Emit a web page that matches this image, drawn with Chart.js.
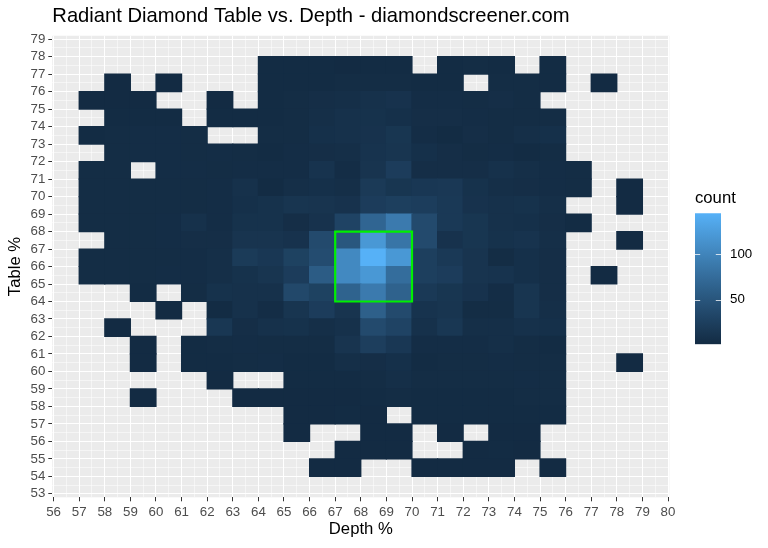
<!DOCTYPE html>
<html>
<head>
    <title>Radiant Diamond Table vs. Depth</title>
    <script src="https://cdn.jsdelivr.net/npm/chart.js"></script>
    <style>
        body { margin: 0; background: #fff; }
        #heatmap { position: absolute; left: 0; top: 0; }
        #colorbar { position: absolute; left: 695px; top: 180px; }
    </style>
</head>
<body>
    <canvas id="heatmap" width="768" height="548"></canvas>
    <canvas id="colorbar" width="73" height="180"></canvas>

    <script>
        const _ = null;
        const depthTicks = [56,57,58,59,60,61,62,63,64,65,66,67,68,69,70,71,72,73,74,75,76,77,78,79,80];
        const tableTicks = [53,54,55,56,57,58,59,60,61,62,63,64,65,66,67,68,69,70,71,72,73,74,75,76,77,78,79];
        const depthBins = [57,58,59,60,61,62,63,64,65,66,67,68,69,70,71,72,73,74,75,76,77,78];
        const tableBins = [77,76,75,74,73,72,71,70,69,68,67,66,65,64,63,62,61,60,59,58,57,56,55,54];
        // one row per entry of tableBins, one column per entry of depthBins
        const counts = [
            [_,_,_,_,_,_,_,2,2,2,1,2,2,_,2,3,2,_,2,_,_,_],
            [_,1,_,1,_,_,_,2,2,2,3,3,3,2,2,_,3,3,2,_,1,_],
            [1,1,1,_,_,1,_,2,3,5,6,8,10,4,4,3,5,3,_,_,_,_],
            [_,2,2,2,_,2,2,2,3,6,8,9,7,5,5,4,3,3,3,_,_,_],
            [2,3,4,4,3,_,_,3,3,7,8,10,14,4,2,5,3,6,7,_,_,_],
            [_,3,4,4,3,4,3,2,4,5,6,11,13,7,5,3,4,2,3,_,_,_],
            [3,3,_,4,4,3,4,4,4,11,4,12,22,5,5,5,8,6,4,3,_,_],
            [3,3,3,3,3,4,8,2,6,7,6,19,14,16,17,9,6,5,4,3,_,1],
            [3,3,3,3,3,4,7,9,13,12,10,22,25,23,18,10,8,9,6,_,_,1],
            [3,3,3,4,8,4,9,9,5,10,30,68,90,38,18,14,8,7,5,2,_,_],
            [_,3,3,4,5,5,12,12,10,38,52,120,85,38,10,14,9,11,6,_,_,1],
            [3,3,3,3,4,6,20,16,28,40,105,145,120,25,18,12,3,7,5,_,_,_],
            [3,3,3,4,4,6,9,13,22,58,105,120,76,25,22,12,11,7,5,_,1,_],
            [_,_,2,_,3,9,8,8,35,28,65,90,64,18,14,10,4,13,5,_,_,_],
            [_,_,_,1,_,2,8,4,13,22,12,62,38,11,13,3,3,13,6,_,_,_],
            [_,1,_,_,_,15,5,8,9,6,8,38,30,8,15,6,6,8,7,_,_,_],
            [_,_,1,_,2,3,4,3,3,3,12,24,16,4,4,4,6,3,2,_,_,_],
            [_,_,1,_,2,2,3,4,2,2,6,5,7,2,3,3,4,3,3,_,_,1],
            [_,_,_,_,_,1,_,_,2,2,2,3,6,3,3,3,3,4,3,_,_,_],
            [_,_,1,_,_,_,1,1,1,1,1,2,3,2,2,2,2,3,3,_,_,_],
            [_,_,_,_,_,_,_,_,1,1,2,1,_,2,2,2,2,2,2,_,_,_],
            [_,_,_,_,_,_,_,_,1,_,_,1,1,_,1,_,1,1,_,_,_,_],
            [_,_,_,_,_,_,_,_,_,_,1,1,1,_,_,1,2,1,_,_,_,_],
            [_,_,_,_,_,_,_,_,_,1,1,_,_,1,1,1,1,_,1,_,_,_]
        ];
        const boxDepth = [67, 70, 70, 67, 67];
        const boxTable = [64, 64, 68, 68, 64];
        const legendTicks = [50, 100];
        const countMin = 1;
        const countMax = 145;

        // ggplot's default gradient runs through Lab space
        const lowColor = [0x13, 0x2B, 0x43];
        const highColor = [0x56, 0xB1, 0xF7];

        function rgbToLab(rgb) {
            const lin = rgb.map(v => { v /= 255; return v > 0.04045 ? Math.pow((v + 0.055) / 1.055, 2.4) : v / 12.92; });
            const xyz = [
                (0.4124 * lin[0] + 0.3576 * lin[1] + 0.1805 * lin[2]) / 0.95047,
                0.2126 * lin[0] + 0.7152 * lin[1] + 0.0722 * lin[2],
                (0.0193 * lin[0] + 0.1192 * lin[1] + 0.9505 * lin[2]) / 1.08883
            ].map(v => v > 0.008856 ? Math.cbrt(v) : 7.787 * v + 16 / 116);
            return [116 * xyz[1] - 16, 500 * (xyz[0] - xyz[1]), 200 * (xyz[1] - xyz[2])];
        }

        function labToCss(lab) {
            const fy = (lab[0] + 16) / 116;
            const xyz = [lab[1] / 500 + fy, fy, fy - lab[2] / 200]
                .map(v => v * v * v > 0.008856 ? v * v * v : (v - 16 / 116) / 7.787);
            const x = xyz[0] * 0.95047, y = xyz[1], z = xyz[2] * 1.08883;
            const rgb = [
                3.2406 * x - 1.5372 * y - 0.4986 * z,
                -0.9689 * x + 1.8758 * y + 0.0415 * z,
                0.0557 * x - 0.2040 * y + 1.0570 * z
            ].map(v => {
                v = v > 0.0031308 ? 1.055 * Math.pow(v, 1 / 2.4) - 0.055 : 12.92 * v;
                return Math.round(Math.min(1, Math.max(0, v)) * 255);
            });
            return `rgb(${rgb[0]},${rgb[1]},${rgb[2]})`;
        }

        const lowLab = rgbToLab(lowColor);
        const highLab = rgbToLab(highColor);
        function countColor(n) {
            const t = (n - countMin) / (countMax - countMin);
            return labToCss(lowLab.map((v, i) => v + (highLab[i] - v) * t));
        }

        // tile for each non empty bin, floating bar from table to table + 1
        const cells = [];
        tableBins.forEach((table, r) => {
            depthBins.forEach((depth, c) => {
                if (counts[r][c] !== null) {
                    cells.push({ x: depth + 0.5, y: [table, table + 1], count: counts[r][c] });
                }
            });
        });

        // ticks every half unit, the half ones only give the thin grid lines
        function withHalves(ticks) {
            const out = [];
            ticks.forEach((v, i) => {
                out.push({ value: v });
                if (i < ticks.length - 1) out.push({ value: v + 0.5 });
            });
            return out;
        }

        // the scale also asks for these without a tick in its context
        const isMajor = c => !c.tick || Number.isInteger(c.tick.value);

        function axisOptions(ticks, min, max) {
            return {
                type: 'linear',
                min: min,
                max: max,
                offset: false,
                afterBuildTicks: scale => { scale.ticks = withHalves(ticks); },
                border: { display: false },
                grid: {
                    offset: false,
                    color: '#ffffff',
                    lineWidth: c => isMajor(c) ? 1 : 0.5,
                    tickColor: c => isMajor(c) ? '#333333' : 'rgba(0,0,0,0)',
                    tickWidth: 1,
                    tickLength: 4
                },
                ticks: {
                    autoSkip: false,
                    maxRotation: 0,
                    minRotation: 0,
                    padding: 3,
                    color: '#4d4d4d',
                    font: { family: '"Liberation Sans"', size: 13.3 },
                    callback: v => Number.isInteger(v) ? String(v) : ''
                }
            };
        }

        const panelBackground = {
            id: 'panelBackground',
            beforeDraw(chart) {
                const a = chart.chartArea;
                chart.ctx.fillStyle = '#ebebeb';
                chart.ctx.fillRect(a.left, a.top, a.right - a.left, a.bottom - a.top);
            }
        };

        const xAxis = axisOptions(depthTicks, 55.95, 80.05);
        xAxis.afterFit = scale => { scale.height = 50.7; };
        xAxis.title = { display: true, text: 'Depth %', color: '#000', font: { family: '"Liberation Sans"', size: 16.7 }, padding: { top: 0, bottom: 9 } };

        const yAxis = axisOptions(tableTicks, 52.8, 79.2);
        yAxis.afterFit = scale => { scale.width = 52.3; };
        yAxis.title = { display: true, text: 'Table %', color: '#000', font: { family: '"Liberation Sans"', size: 16.7 }, padding: { top: 5, bottom: 0 } };

        new Chart(document.getElementById('heatmap').getContext('2d'), {
            data: {
                datasets: [
                    {
                        type: 'line',
                        order: -1,
                        data: boxDepth.map((d, i) => ({ x: d, y: boxTable[i] })),
                        borderColor: '#00f000',
                        borderWidth: 2.2,
                        borderCapStyle: 'square',
                        pointRadius: 0,
                        tension: 0,
                        fill: false
                    },
                    {
                        type: 'bar',
                        data: cells,
                        backgroundColor: c => c.raw ? countColor(c.raw.count) : countColor(countMin),
                        borderWidth: 0,
                        inflateAmount: 0.6,
                        categoryPercentage: 2,
                        barPercentage: 1
                    }
                ]
            },
            options: {
                responsive: false,
                animation: false,
                layout: { autoPadding: false, padding: { left: 0, top: 0, right: 98.7, bottom: 0 } },
                scales: { x: xAxis, y: yAxis },
                plugins: {
                    legend: { display: false },
                    tooltip: { enabled: false },
                    title: {
                        display: true,
                        fullSize: false,
                        align: 'start',
                        text: 'Radiant Diamond Table vs. Depth - diamondscreener.com',
                        color: '#000',
                        font: { family: '"Liberation Sans"', size: 20.2, weight: 'normal' },
                        padding: { top: 4.5, bottom: 7 }
                    }
                }
            },
            plugins: [panelBackground]
        });

        // white tick marks across the colour bar, ggplot style
        const barTicks = {
            id: 'barTicks',
            afterDatasetsDraw(chart) {
                const a = chart.chartArea;
                const len = (a.right - a.left) / 5;
                const ctx = chart.ctx;
                ctx.strokeStyle = 'rgba(255,255,255,0.75)';
                ctx.lineWidth = 1;
                legendTicks.forEach(v => {
                    const y = Math.round(chart.scales.y.getPixelForValue(v)) + 0.5;
                    ctx.beginPath();
                    ctx.moveTo(a.left, y);
                    ctx.lineTo(a.left + len, y);
                    ctx.moveTo(a.right - len, y);
                    ctx.lineTo(a.right, y);
                    ctx.stroke();
                });
            }
        };

        function barGradient(c) {
            const a = c.chart.chartArea;
            if (!a) return countColor(countMin);
            const g = c.chart.ctx.createLinearGradient(0, a.bottom, 0, a.top);
            for (let i = 0; i <= 10; i++) {
                g.addColorStop(i / 10, countColor(countMin + (countMax - countMin) * i / 10));
            }
            return g;
        }

        new Chart(document.getElementById('colorbar').getContext('2d'), {
            type: 'bar',
            data: {
                labels: ['count'],
                datasets: [{
                    data: [[countMin, countMax]],
                    backgroundColor: barGradient,
                    borderWidth: 0,
                    categoryPercentage: 1,
                    barPercentage: 1
                }]
            },
            options: {
                responsive: false,
                animation: false,
                layout: { autoPadding: false, padding: { left: 0, top: 0, right: 0, bottom: 15.7 } },
                scales: {
                    x: { display: false, offset: true },
                    y: {
                        position: 'right',
                        min: countMin,
                        max: countMax,
                        afterBuildTicks: scale => { scale.ticks = legendTicks.map(v => ({ value: v })); },
                        afterFit: scale => { scale.width = 47; },
                        border: { display: false },
                        grid: { display: false },
                        ticks: {
                            padding: 1,
                            color: '#000',
                            font: { family: '"Liberation Sans"', size: 13.3 }
                        }
                    }
                },
                plugins: {
                    legend: { display: false },
                    tooltip: { enabled: false },
                    title: {
                        display: true,
                        align: 'start',
                        text: 'count',
                        color: '#000',
                        font: { family: '"Liberation Sans"', size: 16.7, weight: 'normal' },
                        padding: { top: 8, bottom: 5.3 }
                    }
                }
            },
            plugins: [barTicks]
        });
    </script>
</body>
</html>
